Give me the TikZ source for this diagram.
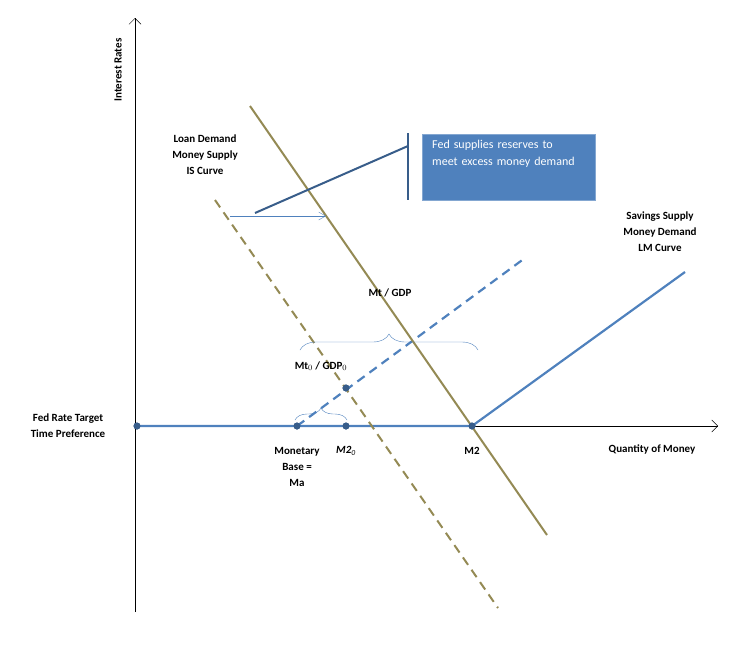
\documentclass[tikz,border=0pt]{standalone}
\usepackage{fontspec}
\setmainfont{Carlito}
\usetikzlibrary{arrows.meta,decorations.pathreplacing}
\definecolor{bl}{HTML}{4F81BD}
\definecolor{dbl}{HTML}{385D8A}
\definecolor{ol}{HTML}{948A54}
\tikzset{lab/.style={font=\bfseries\fontsize{11}{16}\selectfont,align=center,inner sep=0pt},
 dot/.style={circle,fill=dbl,inner sep=0pt,minimum size=7pt},
 bigbrc/.style={draw=bl,decorate,decoration={brace,amplitude=16pt}},
 smallbrc/.style={draw=bl,decorate,decoration={brace,amplitude=12pt}}}
\begin{document}
\begin{tikzpicture}[x=1pt,y=-1pt]
\useasboundingbox (0,0) rectangle (749,648);
\draw[-{Straight Barb[length=6pt]}] (135,612) -- (135,18);
\draw[-{Straight Barb[length=6pt]}] (135,426) -- (718,426);
\node[lab,rotate=90] (yl) at (118,70) {Interest Rates};
\node[lab] (xl) at (652,449) {Quantity of Money};
\node[dot] (a) at (137,426) {};
\node[dot] (b) at (297,426) {};
\node[dot] (c) at (346,426) {};
\node[dot] (d) at (472,426) {};
\node[dot] (e) at (346,388) {};
\coordinate (lm) at (685,272);
\coordinate (dl) at (525,258);
\draw[bl,line width=2.2pt] (a.center) -- (d.center) -- (lm);
\draw[bl,line width=2.2pt,dash pattern=on 9pt off 6pt] (b.center) -- (dl);
\coordinate (i1) at (250,106); \coordinate (i2) at (547,535);
\coordinate (j1) at (215,200); \coordinate (j2) at (498,608);
\draw[ol,line width=2pt] (i1) -- (i2);
\draw[ol,line width=2pt,dash pattern=on 9pt off 6pt] (j1) -- (j2);
\node[dot] at (137,426) {};
\node[dot] at (297,426) {};
\node[dot] at (346,426) {};
\node[dot] at (472,426) {};
\node[dot] at (346,388) {};
\coordinate (s1) at (230,216); \coordinate (s2) at (326,216);
\draw[bl,-{Straight Barb[length=7pt,width=8pt]}] (s1) -- (s2);
\coordinate (t1) at (255,213); \coordinate (t2) at (408,146);
\coordinate (v1) at (408,133); \coordinate (v2) at (408,200);
\draw[dbl,line width=2pt] (t1) -- (t2);
\draw[dbl,line width=2pt] (v1) -- (v2);
\node[fill=bl,draw=bl!70,minimum width=173pt,minimum height=66pt,anchor=north west,inner sep=0pt] (box) at (422,134) {};
\node[anchor=north west,text=white,font=\fontsize{12}{17}\selectfont,align=left,text width=150pt,inner sep=0pt] (bt) at (432,140) {Fed supplies reserves to meet excess money demand};
\node[lab] (is) at (205,155) {Loan Demand\\Money Supply\\IS Curve};
\node[lab] (lmt) at (660,232) {Savings Supply\\Money Demand\\LM Curve};
\node[lab] (fed) at (68,426) {Fed Rate Target\\Time Preference};
\node[lab] (mb) at (297,467) {Monetary\\Base =\\Ma};
\node[lab] (m20) at (346,451) {\itshape M2$_{\mathit 0}$};
\node[lab] (m2) at (472,451) {M2};
\node[lab] (mt) at (390,293) {Mt / GDP};
\node[lab] (mt0) at (321,366) {Mt$_{0}$ / GDP$_{0}$};
\coordinate (b1) at (300,350); \coordinate (b2) at (478,350);
\coordinate (c1) at (295,420); \coordinate (c2) at (347,420);
\draw[bigbrc] (b1) -- (b2);
\draw[smallbrc] (c1) -- (c2);
\end{tikzpicture}
\end{document}
